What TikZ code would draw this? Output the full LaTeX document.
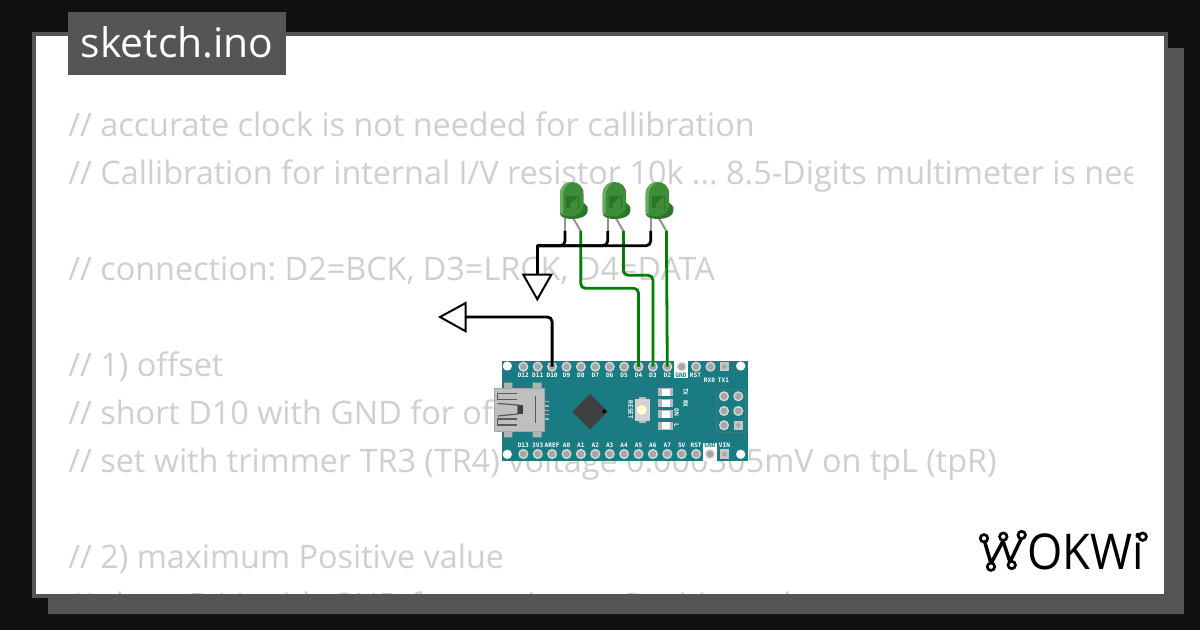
\documentclass[tikz,border=0pt]{standalone}
\usepackage{fontspec}
\setmainfont{Open Sans}
\newfontfamily\boardfont{DejaVu Sans Mono}[Scale=1]
\frenchspacing
\usetikzlibrary{positioning}
\definecolor{pagebg}{HTML}{111111}
\definecolor{framegray}{HTML}{555555}
\definecolor{codegray}{HTML}{CFCFCF}
\definecolor{boardteal}{HTML}{1B7B82}
\definecolor{wiregreen}{HTML}{008000}
\definecolor{ledbody}{HTML}{3C8C38}
\definecolor{ledshine}{HTML}{66AD60}
\definecolor{leddark}{HTML}{2A762A}
\tikzset{
  codeline/.style={anchor=base west,inner sep=0pt,text=codegray,font=\fontsize{24.27}{24}\selectfont},
  silk/.style={inner sep=0pt,text=white,font=\boardfont\bfseries\fontsize{4.6}{4}\selectfont},
  pinpad/.style={circle,inner sep=0pt,minimum size=6.5pt,fill=gray!70!white,draw=gray!30!white,line width=1pt},
  sqpad/.style={rectangle,inner sep=0pt,minimum size=7pt,fill=gray!45!white,draw=none},
  blackwire/.style={draw=black,line width=2.1pt,rounded corners=3.5pt},
  greenwire/.style={draw=wiregreen,line width=2.1pt,rounded corners=3.5pt},
  legpin/.style={draw=gray!85!white,line width=1.5pt},
  symbol/.style={draw=black,line width=1.5pt,fill=white,line join=miter},
  usbline/.style={draw=black!65,line width=.9pt},
  logo/.style={draw=black,line width=2.6pt,line cap=round},
  ring/.style={circle,draw=black,fill=white,line width=2pt,inner sep=0pt,minimum size=5.6pt},
  smd/.style={rectangle,inner sep=0pt,minimum width=10.8pt,minimum height=6pt,fill=gray!55!white},
}
\begin{document}
\begin{tikzpicture}[x=.75pt,y=-.75pt]
    \useasboundingbox (0,0) rectangle (1200,630);
    \fill[pagebg] (0,0) rectangle (1200,630);
    %shadow and card
    \fill[framegray] (48,48) rectangle (1184,614);
    \fill[framegray] (32,32) rectangle (1168,598);
    \fill[white] (36,36) rectangle (1164,594);
    %source text
    \begin{scope}
      \clip (36,36) rectangle (1132,594);
      \node[codeline] (lineclock) at (68,136.7) {// accurate clock is not needed for callibration};
      \node[codeline] (linecal) at (68,184.7) {// Callibration for internal I/V resistor 10k ... 8.5-Digits multimeter is needed};
      \node[codeline] (lineconn) at (68,280.7) {// connection: D2=BCK, D3=LRCK, D4=DATA};
      \node[codeline] (lineoff) at (68,376.7) {// 1) offset};
      \node[codeline] (lineshort) at (68,424.7) {// short D10 with GND for offset};
      \node[codeline] (linetrim) at (68,472.7) {// set with trimmer TR3 (TR4) voltage 0.000305mV on tpL (tpR)};
      \node[codeline] (linemax) at (68,568.7) {// 2) maximum Positive value};
      \node[codeline] (linepos) at (68,616.7) {// short D11 with GND for maximum Positive value};
    \end{scope}
    %tab
    \fill[framegray] (68,12) rectangle (286,75);
    \node[anchor=base,inner sep=0pt,text=white,font=\fontsize{30.6}{30}\selectfont] (tabname) at (177,58) {sketch.ino};
    %board
    \fill[boardteal] (502,361) rectangle (748,460.7);
    \foreach \x/\y in {507.3/366,740.7/366,507.3/454.3,740.7/454.3}
      \fill[white] (\x,\y) circle (3.5pt);
    \fill[white] (674,361) rectangle (688,378.5);
    \fill[white] (702.7,443.3) rectangle (717.3,460.7);
    %top header
    \foreach \i/\name in {0/D12,1/D11,2/D10,3/D9,4/D8,5/D7,6/D6,7/D5,8/D4,9/D3,10/D2,11/GND,12/RST,13/RXO}{
      \node[pinpad] (top\name) at (523.3+14.4*\i,366.7) {};
    }
    \node[sqpad] (topTX) at (724.5,366.7) {};
    \node[circle,inner sep=0pt,minimum size=3.5pt,fill=gray!70!white] (topTXhole) at (topTX) {};
    \foreach \i/\name in {0/D12,1/D11,2/D10,3/D9,4/D8,5/D7,6/D6,7/D5,8/D4,9/D3,10/D2}{
      \node[silk] (toplabel\name) at (523.3+14.4*\i,375.7) {\name};
    }
    \node[silk,text=boardteal] (toplabelGND) at (681,375.7) {GND};
    \node[silk] (toplabelRST) at (695.5,375.7) {RST};
    \node[silk] (toplabelRX) at (709.5,380.7) {RX0};
    \node[silk] (toplabelTX) at (723.5,380.7) {TX1};
    %bottom header
    \foreach \i/\name/\tag in {0/D13/D13,1/3V3/3V3,2/AREF/AREF,3/A0/A0,4/A1/A1,5/A2/A2,6/A3/A3,7/A4/A4,8/A5/A5,9/A6/A6,10/A7/A7,11/5V/5V,12/RST/RST}{
      \node[pinpad] (bot\tag) at (523.3+14.4*\i,454) {};
      \node[silk] (botlabel\tag) at (523.3+14.4*\i,445.7) {\name};
    }
    \node[pinpad] (botGND) at (710,454) {};
    \node[silk,text=boardteal] (botlabelGND) at (710,445.7) {GND};
    \node[sqpad] (botVIN) at (724.5,454) {};
    \node[circle,inner sep=0pt,minimum size=3.5pt,fill=gray!70!white] (botVINhole) at (botVIN) {};
    \node[silk] (botlabelVIN) at (724.5,445.7) {VIN};
    %usb socket
    \fill[gray!60!white] (504,382.7) rectangle (512.3,388) (532.7,382.7) rectangle (541.7,388);
    \fill[gray!60!white] (504,431.7) rectangle (512.3,437.3) (532.7,431.7) rectangle (541.7,437.3);
    \foreach \y in {401.7,406,410.3,414.6,419}
      \draw[gray!60!white,line width=1pt] (544,\y) -- (549.3,\y);
    \fill[gray!50!white,draw=gray!70!white] (494,388.3) rectangle (544.5,431.7);
    \draw[usbline] (516.7,393.3) -- (497.5,393.3) -- (497.5,399.3) -- (516.7,399.3);
    \draw[usbline] (516.7,419) -- (497.5,419) -- (497.5,425) -- (516.7,425);
    \draw[usbline] (497.5,403.5) -- (518,405) -- (518,414) -- (497.5,416);
    \fill[black!75] (518,405.3) rectangle (523,414);
    \draw[usbline] (535.7,396) -- (535.7,422.7);
    %chip
    \fill[black!75] (590,394) -- (607.7,411.7) -- (590,429.4) -- (572.3,411.7) -- cycle;
    \fill[black] (604.3,411.3) circle (1.5pt);
    %reset button
    \fill[gray!55!white] (639,397) rectangle (646,423);
    \fill[gray!35!white] (635,399) rectangle (650,420.7);
    \fill[yellow!18!white,draw=gray!45!white] (641.7,410) circle (4.2pt);
    \node[silk,rotate=-90] (resetlabel) at (630.7,410) {RESET};
    %small leds
    \foreach \y/\name in {392.3/a,403.3/b,414.3/c,425.7/d}{
      \node[smd] (smd\name) at (665.5,\y) {};
      \fill[white] (661.5,\y-3.6) rectangle (669.5,\y+3.6);
    }
    \node[silk,rotate=-90] (txlabel) at (685.7,391.7) {TX};
    \node[silk,rotate=-90] (rxlabel) at (685.7,404) {RX};
    \node[silk,rotate=-90] (onlabel) at (676.7,412.3) {ON};
    \node[silk,rotate=-90] (llabel) at (676.7,425.7) {L};
    %icsp
    \draw[gray!35!boardteal,line width=.7pt] (716.7,389.3) rectangle (745.7,432.3);
    \foreach \x/\y/\name in {724/396.3/a,738.3/396.3/b,724/411/c,738.3/411/d,724/425.3/e}{
      \node[pinpad] (icsp\name) at (\x,\y) {};
    }
    \node[sqpad] (icspf) at (738.3,425.3) {};
    \node[circle,inner sep=0pt,minimum size=3.5pt,fill=gray!70!white] (icspfhole) at (icspf) {};
    %leds
    \foreach \x/\name in {0/a,42.7/b,85.7/c}{
      \coordinate (led\name cat) at (565+\x,231);
      \coordinate (led\name an) at (580.7+\x,231);
      \draw[legpin] (565+\x,218) -- (led\name cat);
      \draw[legpin] (573+\x,218) -- (led\name an);
      \fill[leddark] (561+\x,212) -- (584+\x,203) -- (587.7+\x,207) -- (587.7+\x,211) .. controls (587.7+\x,216) and (580+\x,219) .. (573+\x,219) .. controls (567+\x,219) and (561+\x,218) .. (560+\x,214) -- cycle;
      \fill[ledbody] (560+\x,194) .. controls (560+\x,186) and (566+\x,182) .. (571.7+\x,182) .. controls (578+\x,182) and (583.5+\x,186) .. (583.5+\x,194) -- (583.5+\x,206) .. controls (583.5+\x,212) and (577+\x,216.5) .. (570+\x,216.5) .. controls (565+\x,216.5) and (560+\x,215) .. (560+\x,212) -- cycle;
      \fill[ledshine] (560+\x,194) .. controls (560+\x,186) and (566+\x,182) .. (571.7+\x,182) .. controls (566+\x,184) and (563+\x,190) .. (563+\x,196) -- (563+\x,215) -- (560+\x,212) -- cycle;
      \fill[leddark] (566+\x,196) rectangle (578.3+\x,208.5);
      \fill[ledbody] (578.3+\x,196) -- (570+\x,204) -- (570+\x,208.5) -- (578.3+\x,208.5) -- cycle;
      \draw[leddark,line width=.7pt] (578.3+\x,196) -- (578.3+\x,209);
    }
    %wires
    \coordinate (busend) at (537.3,245.7);
    \coordinate (gndtip) at (537.3,299.3);
    \coordinate (gndleft) at (523.3,274.7);
    \coordinate (gndright) at (551.3,274.7);
    \coordinate (gndtop) at (537.3,274.7);
    \coordinate (sigtip) at (440,317);
    \coordinate (siguplo) at (465.7,303);
    \coordinate (sigdown) at (465.7,331.3);
    \coordinate (sigback) at (465.7,317);
    \coordinate (benda) at (610,288.3);
    \coordinate (bendb) at (640,275.3);
    \draw[greenwire] (ledaan) |- (benda) -| (topD4.center);
    \draw[greenwire] (ledban) |- (bendb) -| (topD3.center);
    \draw[greenwire] (ledcan) -- (topD2.center);
    \draw[blackwire] (ledacat) |- (busend);
    \draw[blackwire] (ledbcat) |- (busend);
    \draw[blackwire] (ledccat) |- (busend);
    \draw[blackwire,line cap=round] (busend) -- (gndtop);
    \draw[symbol] (gndleft) -- (gndright) -- (gndtip) -- cycle;
    \draw[blackwire] (topD10.center) |- (sigback);
    \draw[symbol] (siguplo) -- (sigdown) -- (sigtip) -- cycle;
    %logo
    \draw[logo] (984.5,541) -- (991,563.5) -- (1003,541) -- (1010,562) -- (1021.5,538);
    \node[ring] (logoa) at (984,538.3) {};
    \node[ring] (logob) at (1003.3,536.7) {};
    \node[ring] (logoc) at (1021.7,535) {};
    \node[ring] (logod) at (991,566.7) {};
    \node[ring] (logoe) at (1011.7,565) {};
    \node[anchor=base west,inner sep=0pt,xscale=.92,text=black,font=\fontsize{37}{37}\selectfont] (logotext) at (1027,570) {OKWi};
    \node[ring] (logof) at (1142.7,536.7) {};
\end{tikzpicture}
\end{document}
